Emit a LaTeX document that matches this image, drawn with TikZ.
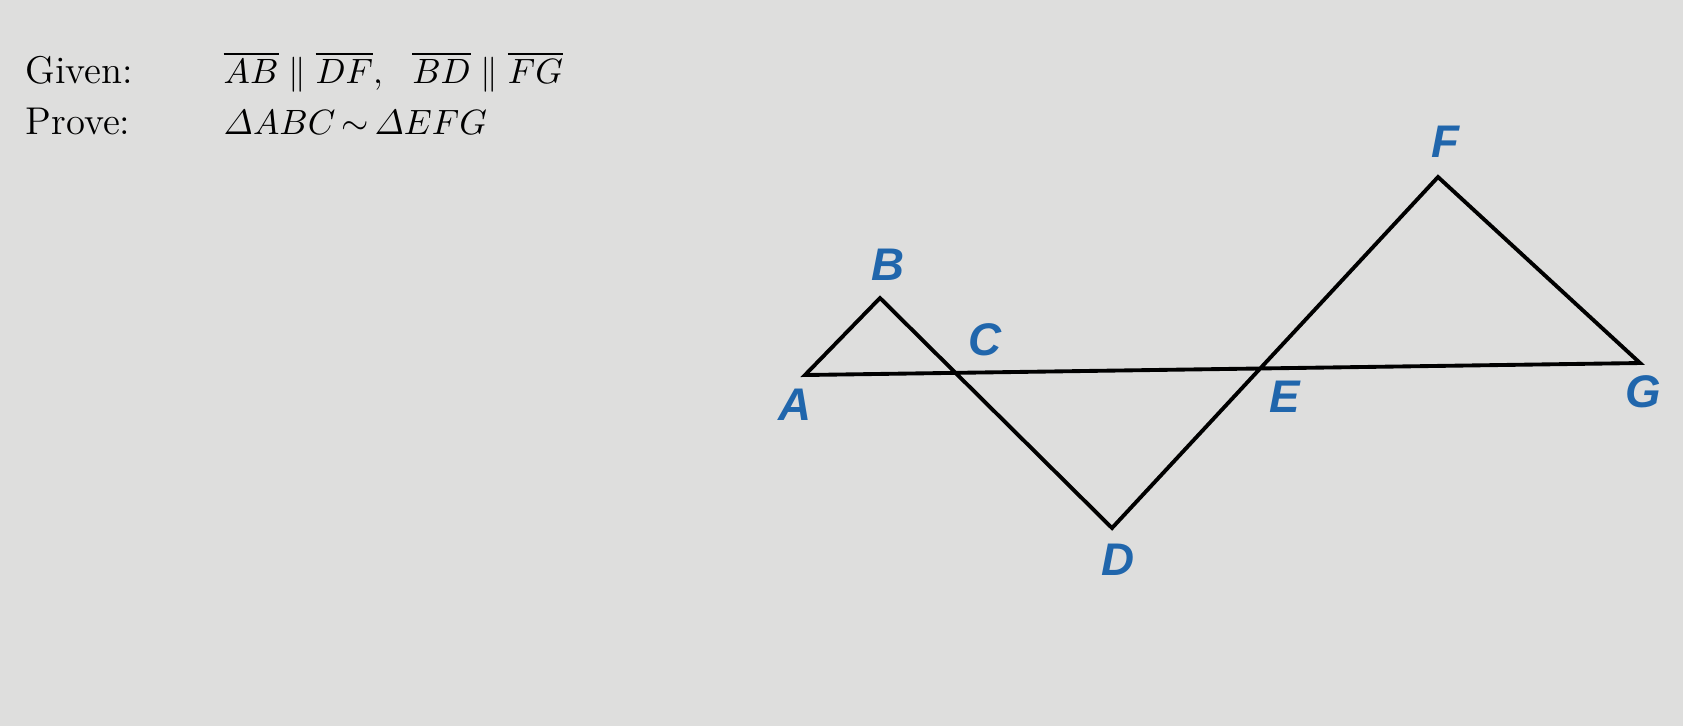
\documentclass[tikz,border=0pt]{standalone}
\usepackage{amsmath,amssymb}
\usepackage{fontspec}
\newfontfamily\lblfont{Liberation Sans}
\definecolor{lblblue}{RGB}{32,102,172}
\definecolor{paper}{RGB}{222,222,221}
\tikzset{
  vlabel/.style={text=lblblue, font=\lblfont\bfseries\itshape\fontsize{13}{15}\selectfont},
  txt/.style={anchor=base west, inner sep=0pt, font=\fontsize{11}{13}\selectfont},
  mtxt/.style={txt, font=\fontsize{10}{12}\selectfont}
}

\begin{document}
\begin{tikzpicture}[x=.01cm,y=-.01cm]
  \fill[paper] (0,0) rectangle (1683,726);
  \useasboundingbox (0,0) rectangle (1683,726);
  \node[txt] at (25,83) (given) {Given:};
  \node[mtxt] at (223,83) (givenm) {$\overline{AB}\parallel\overline{DF},\ \ \overline{BD}\parallel\overline{FG}$};
  \node[txt] at (25,134) (prove) {Prove:};
  \node[mtxt] at (223,134) (provem) {$\varDelta ABC\,{\sim}\,\varDelta EFG$};
  \coordinate (A) at (805,375);
  \coordinate (B) at (880,298);
  \coordinate (D) at (1112,528);
  \coordinate (F) at (1438,177);
  \coordinate (G) at (1640,363);
  \draw[line width=1.1pt] (A) -- (B) -- (D) -- (F) -- (G) -- cycle;
  \node[vlabel] at (795,405) (lA) {A};
  \node[vlabel] at (888,265) (lB) {B};
  \node[vlabel] at (985,340) (lC) {C};
  \node[vlabel] at (1118,560) (lD) {D};
  \node[vlabel] at (1285,397) (lE) {E};
  \node[vlabel] at (1445,142) (lF) {F};
  \node[vlabel] at (1643,392) (lG) {G};
\end{tikzpicture}
\end{document}
